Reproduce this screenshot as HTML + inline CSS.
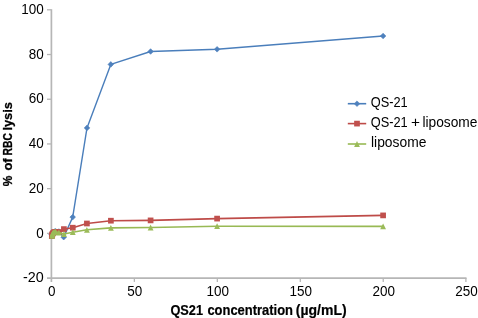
<!DOCTYPE html>
<html><head><meta charset="utf-8"><title>RBC lysis chart</title>
<style>html,body{margin:0;padding:0;background:#fff}svg{display:block}text{font-family:"Liberation Sans",sans-serif;fill:#000}</style></head><body>
<svg width="478" height="318" viewBox="0 0 478 318">
<rect width="478" height="318" fill="#fff"/>
<g stroke="#b6b6b6" fill="none">
<line stroke-width="1.7" x1="51.40" y1="9.20" x2="51.40" y2="282.10"/>
<line stroke-width="1.8" x1="47.00" y1="278.10" x2="466.50" y2="278.10"/>
<line stroke-width="1.3" x1="47.00" y1="9.80" x2="51.40" y2="9.80"/>
<line stroke-width="1.3" x1="47.00" y1="54.52" x2="51.40" y2="54.52"/>
<line stroke-width="1.3" x1="47.00" y1="99.23" x2="51.40" y2="99.23"/>
<line stroke-width="1.3" x1="47.00" y1="143.95" x2="51.40" y2="143.95"/>
<line stroke-width="1.3" x1="47.00" y1="188.67" x2="51.40" y2="188.67"/>
<line stroke-width="1.3" x1="47.00" y1="233.38" x2="51.40" y2="233.38"/>
<line stroke-width="1.3" x1="134.36" y1="278.10" x2="134.36" y2="281.90"/>
<line stroke-width="1.3" x1="217.32" y1="278.10" x2="217.32" y2="281.90"/>
<line stroke-width="1.3" x1="300.28" y1="278.10" x2="300.28" y2="281.90"/>
<line stroke-width="1.3" x1="383.24" y1="278.10" x2="383.24" y2="281.90"/>
<line stroke-width="1.3" x1="465.90" y1="278.10" x2="465.90" y2="281.90"/>
</g>
<g font-size="14.5px">
<text transform="translate(43.7 14.00) scale(0.93 1)" text-anchor="end">100</text>
<text transform="translate(43.7 58.72) scale(0.93 1)" text-anchor="end">80</text>
<text transform="translate(43.7 103.43) scale(0.93 1)" text-anchor="end">60</text>
<text transform="translate(43.7 148.15) scale(0.93 1)" text-anchor="end">40</text>
<text transform="translate(43.7 192.87) scale(0.93 1)" text-anchor="end">20</text>
<text transform="translate(43.7 237.58) scale(0.93 1)" text-anchor="end">0</text>
<text transform="translate(43.7 282.30) scale(0.99 1)" text-anchor="end">-20</text>
<text transform="translate(51.80 296.3) scale(0.93 1)" text-anchor="middle">0</text>
<text transform="translate(134.76 296.3) scale(0.93 1)" text-anchor="middle">50</text>
<text transform="translate(217.72 296.3) scale(0.93 1)" text-anchor="middle">100</text>
<text transform="translate(300.68 296.3) scale(0.93 1)" text-anchor="middle">150</text>
<text transform="translate(383.64 296.3) scale(0.93 1)" text-anchor="middle">200</text>
<text transform="translate(466.60 296.3) scale(0.93 1)" text-anchor="middle">250</text>
</g>
<text id="xt" y="314.9" font-size="14px" font-weight="bold" stroke="#000" stroke-width="0.2"><tspan x="170.40" textLength="32.60" lengthAdjust="spacingAndGlyphs">QS21</tspan> <tspan x="207.40" textLength="85.60" lengthAdjust="spacingAndGlyphs">concentration</tspan> <tspan x="295.80" textLength="50.80" lengthAdjust="spacingAndGlyphs">(µg/mL)</tspan></text>
<text id="yt" transform="translate(11.7 186.2) rotate(-90)" y="0" font-size="13.5px" font-weight="bold" stroke="#000" stroke-width="0.3"><tspan x="0.00" textLength="10.60" lengthAdjust="spacingAndGlyphs">%</tspan> <tspan x="15.60" textLength="12.20" lengthAdjust="spacingAndGlyphs">of</tspan> <tspan x="30.80" textLength="22.20" lengthAdjust="spacingAndGlyphs">RBC</tspan> <tspan x="55.60" textLength="28.60" lengthAdjust="spacingAndGlyphs">lysis</tspan></text>
<polyline fill="none" stroke="#4a7ebb" stroke-width="1.4" stroke-linejoin="round" points="51.60,234.50 52.00,234.00 52.50,233.10 53.30,232.20 54.20,231.60 55.60,231.20 58.90,231.50 63.70,237.20 72.70,217.10 87.00,127.90 110.80,64.40 150.60,51.50 217.10,49.30 383.10,36.00"/>
<path fill="#4f81bd" stroke="#4f81bd" stroke-width="0.6" stroke-linejoin="round" d="M51.60 231.70L54.40 234.50L51.60 237.30L48.80 234.50Z"/>
<path fill="#4f81bd" stroke="#4f81bd" stroke-width="0.6" stroke-linejoin="round" d="M52.00 231.20L54.80 234.00L52.00 236.80L49.20 234.00Z"/>
<path fill="#4f81bd" stroke="#4f81bd" stroke-width="0.6" stroke-linejoin="round" d="M52.50 230.30L55.30 233.10L52.50 235.90L49.70 233.10Z"/>
<path fill="#4f81bd" stroke="#4f81bd" stroke-width="0.6" stroke-linejoin="round" d="M53.30 229.40L56.10 232.20L53.30 235.00L50.50 232.20Z"/>
<path fill="#4f81bd" stroke="#4f81bd" stroke-width="0.6" stroke-linejoin="round" d="M54.20 228.80L57.00 231.60L54.20 234.40L51.40 231.60Z"/>
<path fill="#4f81bd" stroke="#4f81bd" stroke-width="0.6" stroke-linejoin="round" d="M55.60 228.40L58.40 231.20L55.60 234.00L52.80 231.20Z"/>
<path fill="#4f81bd" stroke="#4f81bd" stroke-width="0.6" stroke-linejoin="round" d="M58.90 228.70L61.70 231.50L58.90 234.30L56.10 231.50Z"/>
<path fill="#4f81bd" stroke="#4f81bd" stroke-width="0.6" stroke-linejoin="round" d="M63.70 234.40L66.50 237.20L63.70 240.00L60.90 237.20Z"/>
<path fill="#4f81bd" stroke="#4f81bd" stroke-width="0.6" stroke-linejoin="round" d="M72.70 214.30L75.50 217.10L72.70 219.90L69.90 217.10Z"/>
<path fill="#4f81bd" stroke="#4f81bd" stroke-width="0.6" stroke-linejoin="round" d="M87.00 125.10L89.80 127.90L87.00 130.70L84.20 127.90Z"/>
<path fill="#4f81bd" stroke="#4f81bd" stroke-width="0.6" stroke-linejoin="round" d="M110.80 61.60L113.60 64.40L110.80 67.20L108.00 64.40Z"/>
<path fill="#4f81bd" stroke="#4f81bd" stroke-width="0.6" stroke-linejoin="round" d="M150.60 48.70L153.40 51.50L150.60 54.30L147.80 51.50Z"/>
<path fill="#4f81bd" stroke="#4f81bd" stroke-width="0.6" stroke-linejoin="round" d="M217.10 46.50L219.90 49.30L217.10 52.10L214.30 49.30Z"/>
<path fill="#4f81bd" stroke="#4f81bd" stroke-width="0.6" stroke-linejoin="round" d="M383.10 33.20L385.90 36.00L383.10 38.80L380.30 36.00Z"/>
<polyline fill="none" stroke="#be4b48" stroke-width="1.6" stroke-linejoin="round" points="51.80,236.10 52.10,235.00 52.40,234.00 53.10,233.00 54.20,232.00 55.70,231.90 58.90,232.00 63.90,229.10 72.80,227.70 86.90,223.50 110.90,220.70 150.60,220.40 217.10,218.60 383.10,215.40"/>
<rect fill="#c0504d" x="48.95" y="233.25" width="5.70" height="5.70"/>
<rect fill="#c0504d" x="49.25" y="232.15" width="5.70" height="5.70"/>
<rect fill="#c0504d" x="49.55" y="231.15" width="5.70" height="5.70"/>
<rect fill="#c0504d" x="50.25" y="230.15" width="5.70" height="5.70"/>
<rect fill="#c0504d" x="51.35" y="229.15" width="5.70" height="5.70"/>
<rect fill="#c0504d" x="52.85" y="229.05" width="5.70" height="5.70"/>
<rect fill="#c0504d" x="56.05" y="229.15" width="5.70" height="5.70"/>
<rect fill="#c0504d" x="61.05" y="226.25" width="5.70" height="5.70"/>
<rect fill="#c0504d" x="69.95" y="224.85" width="5.70" height="5.70"/>
<rect fill="#c0504d" x="84.05" y="220.65" width="5.70" height="5.70"/>
<rect fill="#c0504d" x="108.05" y="217.85" width="5.70" height="5.70"/>
<rect fill="#c0504d" x="147.75" y="217.55" width="5.70" height="5.70"/>
<rect fill="#c0504d" x="214.25" y="215.75" width="5.70" height="5.70"/>
<rect fill="#c0504d" x="380.25" y="212.55" width="5.70" height="5.70"/>
<polyline fill="none" stroke="#98b954" stroke-width="1.6" stroke-linejoin="round" points="52.30,235.90 52.30,234.60 52.50,233.40 53.20,232.50 54.20,231.90 55.70,231.70 58.90,232.50 64.00,234.00 72.80,232.20 86.90,229.80 110.90,227.90 150.60,227.50 217.10,226.20 383.10,226.40"/>
<path fill="#9bbb59" d="M52.30 233.00L55.20 238.80L49.40 238.80Z"/>
<path fill="#9bbb59" d="M52.30 231.70L55.20 237.50L49.40 237.50Z"/>
<path fill="#9bbb59" d="M52.50 230.50L55.40 236.30L49.60 236.30Z"/>
<path fill="#9bbb59" d="M53.20 229.60L56.10 235.40L50.30 235.40Z"/>
<path fill="#9bbb59" d="M54.20 229.00L57.10 234.80L51.30 234.80Z"/>
<path fill="#9bbb59" d="M55.70 228.80L58.60 234.60L52.80 234.60Z"/>
<path fill="#9bbb59" d="M58.90 229.60L61.80 235.40L56.00 235.40Z"/>
<path fill="#9bbb59" d="M64.00 231.10L66.90 236.90L61.10 236.90Z"/>
<path fill="#9bbb59" d="M72.80 229.30L75.70 235.10L69.90 235.10Z"/>
<path fill="#9bbb59" d="M86.90 226.90L89.80 232.70L84.00 232.70Z"/>
<path fill="#9bbb59" d="M110.90 225.00L113.80 230.80L108.00 230.80Z"/>
<path fill="#9bbb59" d="M150.60 224.60L153.50 230.40L147.70 230.40Z"/>
<path fill="#9bbb59" d="M217.10 223.30L220.00 229.10L214.20 229.10Z"/>
<path fill="#9bbb59" d="M383.10 223.50L386.00 229.30L380.20 229.30Z"/>
<line x1="347.8" y1="103.70" x2="366.2" y2="103.70" stroke="#4a7ebb" stroke-width="1.6"/>
<path fill="#4f81bd" stroke="#4f81bd" stroke-width="0.6" stroke-linejoin="round" d="M357.00 100.90L359.80 103.70L357.00 106.50L354.20 103.70Z"/>
<text class="lg" y="107.20" font-size="14px"><tspan x="370.70" textLength="37.00" lengthAdjust="spacingAndGlyphs">QS-21</tspan></text>
<line x1="347.8" y1="123.60" x2="366.2" y2="123.60" stroke="#be4b48" stroke-width="1.6"/>
<rect fill="#c0504d" x="354.15" y="120.75" width="5.70" height="5.70"/>
<text class="lg" y="127.40" font-size="14px"><tspan x="370.70" textLength="37.00" lengthAdjust="spacingAndGlyphs">QS-21</tspan> <tspan x="411.00" textLength="9.00" lengthAdjust="spacingAndGlyphs">+</tspan> <tspan x="422.40" textLength="55.00" lengthAdjust="spacingAndGlyphs">liposome</tspan></text>
<line x1="347.8" y1="144.00" x2="366.2" y2="144.00" stroke="#98b954" stroke-width="1.6"/>
<path fill="#9bbb59" d="M357.00 141.10L359.90 146.90L354.10 146.90Z"/>
<text class="lg" y="147.40" font-size="14px"><tspan x="371.00" textLength="55.40" lengthAdjust="spacingAndGlyphs">liposome</tspan></text>
</svg></body></html>
